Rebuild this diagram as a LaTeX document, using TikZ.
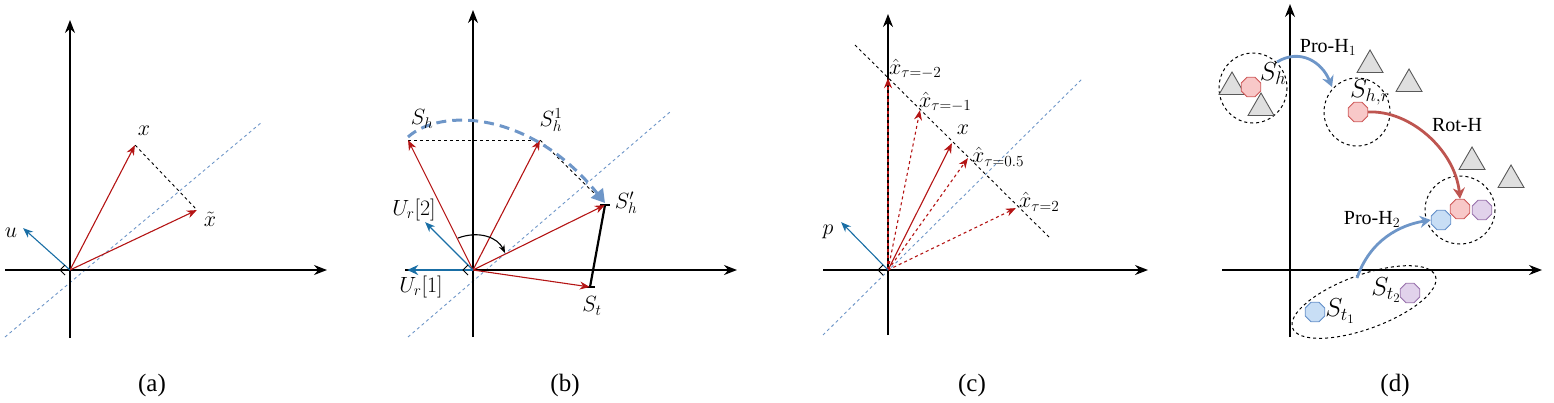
\RequirePackage{fix-cm}
\documentclass[tikz,border=0pt]{standalone}
\usepackage{fontspec}
\setmainfont{Liberation Serif}
\usetikzlibrary{arrows.meta,shapes.geometric}
\definecolor{vred}{RGB}{180,20,20}
\definecolor{vblue}{RGB}{25,110,165}
\definecolor{lblue}{RGB}{110,150,200}
\definecolor{pfill}{RGB}{248,200,200}\definecolor{pdraw}{RGB}{205,85,85}
\definecolor{bfill}{RGB}{200,222,245}\definecolor{bdraw}{RGB}{95,140,200}
\definecolor{ufill}{RGB}{225,210,235}\definecolor{udraw}{RGB}{150,110,170}
\definecolor{arrred}{RGB}{190,85,80}
\definecolor{arrblue}{RGB}{110,150,200}
\begin{document}
\begin{tikzpicture}[x=1pt,y=-1pt,font=\fontsize{22}{24}\selectfont,
 axis/.style={line width=1.4pt,-{Stealth[length=13pt,width=10pt]}},
 vec/.style={vred,line width=1.1pt,-{Stealth[length=10pt,width=8pt]}},
 dvec/.style={vec,dashed},
 bvec/.style={vblue,line width=1.1pt,-{Stealth[length=10pt,width=8pt]}},
 diag/.style={lblue,dashed,line width=0.9pt},
 aux/.style={dashed,line width=0.9pt},
 pt/.style={circle,inner sep=0pt,minimum size=0pt},
 rdot/.style={regular polygon,regular polygon sides=8,minimum size=21pt,inner sep=0pt,fill=pfill,draw=pdraw,line width=0.8pt},
 bdot/.style={rdot,fill=bfill,draw=bdraw},
 udot/.style={rdot,fill=ufill,draw=udraw},
 tri/.style={regular polygon,regular polygon sides=3,minimum size=30pt,inner sep=0pt,fill=gray!25,draw=gray!70!black,line width=0.9pt},
 grp/.style={dashed,line width=1pt},
 lbl/.style={font=\fontsize{20}{22}\selectfont},
 captxt/.style={font=\fontsize{25}{27}\selectfont}]
\useasboundingbox (0,0) rectangle (1554,402);
% ---------- (a)
\coordinate (oa) at (70,270);
\coordinate (ya1) at (70,338);\coordinate (ya2) at (70,20);
\coordinate (xa1) at (5,270);\coordinate (xa2) at (327,270);
\coordinate (da1) at (5,337);\coordinate (da2) at (262,122);
\draw[diag] (da1)--(da2);
\draw[axis] (ya1)--(ya2);
\draw[axis] (xa1)--(xa2);
\node[pt] (xa) at (135,145){};\node[pt] (xta) at (197,210){};\node[pt] (ua) at (23,228){};
\draw[aux] (xa)--(xta);
\draw[vec] (oa)--(xa);\draw[vec] (oa)--(xta);
\draw[bvec] (oa)--(ua);
\draw[line width=0.9pt] (65,265)--(60,270)--(65,275);
\node at (144,131){$x$};\node at (210,219){$\tilde{x}$};\node at (11,233){$u$};
\node[captxt] at (152,385){(a)};
% ---------- (b)
\coordinate (ob) at (473,270);
\draw[diag] (473,337)--(473,15);
\draw[diag] (408,337)--(670,112);
\draw[axis] (473,337)--(473,10);
\draw[axis] (405,270)--(737,270);
\node[pt] (sh) at (408,140){};\node[pt] (sh1) at (540,140){};
\node[pt] (shp) at (605,205){};\node[pt] (st) at (590,287){};
\node[pt] (u2) at (425,222){};\node[pt] (u1) at (407,270){};
\draw[aux] (sh)--(sh1);
\draw[aux] (sh1)--(597,196);
\draw[line width=2.2pt] (shp)--(st);
\draw[line width=1.5pt] (600,205)--(610,205);\draw[line width=1.5pt] (585,287)--(595,287);
\draw[vec] (ob)--(sh);\draw[vec] (ob)--(sh1);\draw[vec] (ob)--(shp);\draw[vec] (ob)--(st);
\draw[bvec] (ob)--(u2);
\draw[vblue,line width=2.2pt,-{Stealth[length=11pt,width=10pt]}] (ob)--(u1);
\draw[line width=0.9pt] (468,265)--(463,270)--(468,275);
\draw[arrblue,line width=3pt,dash pattern=on 10pt off 6pt,-{Triangle[length=13pt,width=15pt]}] (408,137) .. controls (440,108) and (530,110) .. (605,203);
\draw[line width=1.1pt,-{Stealth[length=8pt]}] (458,238) .. controls (480,230) and (498,238) .. (505,253);
\node at (422,119){$S_h$};\node at (551,120){$S_h^1$};
\node at (626,203){$S_h'$};\node at (592,306){$S_t$};
\node at (414,210){$U_r[2]$};\node at (421,287){$U_r[1]$};
\node[captxt] at (565,385){(b)};
% ---------- (c)
\coordinate (oc) at (888,270);
\draw[diag] (823,335)--(1083,78);
\draw[aux] (855,45)--(1050,238);
\draw[axis] (888,335)--(888,14);
\draw[axis] (823,270)--(1148,270);
\node[pt] (t1) at (888,78){};\node[pt] (t2) at (920,110){};\node[pt] (xc) at (952,143){};
\node[pt] (t3) at (968,158){};\node[pt] (t4) at (1016,208){};\node[pt] (p) at (841,222){};
\draw[dvec] (oc)--(t1);\draw[dvec] (oc)--(t2);\draw[vec] (oc)--(xc);
\draw[dvec] (oc)--(t3);\draw[dvec] (oc)--(t4);
\draw[bvec] (oc)--(p);
\draw[line width=0.9pt] (883,265)--(878,270)--(883,275);
\node[anchor=west,inner sep=0pt] at (889,69){$\hat{x}_{\tau=-2}$};
\node[anchor=west,inner sep=0pt] at (919,102){$\hat{x}_{\tau=-1}$};
\node at (963,130){$x$};
\node[anchor=west,inner sep=0pt] at (972,157){$\hat{x}_{\tau=0.5}$};
\node[anchor=west,inner sep=0pt] at (1019,202){$\hat{x}_{\tau=2}$};
\node at (828,232){$p$};
\node[captxt] at (972,385){(c)};
% ---------- (d)
\draw[axis] (1290,337)--(1290,4);
\draw[axis] (1222,270)--(1542,270);
\draw[grp] (1253,88) ellipse[x radius=34,y radius=35];
\draw[grp] (1357,112) ellipse[x radius=33,y radius=34];
\draw[grp] (1460,210) ellipse[x radius=35,y radius=34];
\draw[grp,rotate around={20:(1364,302)}] (1364,302) ellipse[x radius=76,y radius=27];
\node[tri] (tr1) at (1232,87){};\node[tri] (tr2) at (1261,108){};
\node[tri] (tr3) at (1370,65){};\node[tri] (tr4) at (1409,84){};
\node[tri] (tr5) at (1472,162){};\node[tri] (tr6) at (1511,180){};
\node[rdot] (shd) at (1251,87){};
\node[rdot] (shr) at (1358,112){};
\node[bdot] (tb) at (1441,220){};
\node[rdot] (tr) at (1460,209){};
\node[udot] (tu) at (1482,210){};
\node[bdot] (st1) at (1315,312){};
\node[udot] (st2) at (1410,293){};
\node at (1273,74){\fontsize{26}{28}\selectfont$S_h$};
\node at (1370,92){\fontsize{26}{28}\selectfont$S_{h,r}$};
\node at (1340,311){\fontsize{26}{28}\selectfont$S_{t_1}$};
\node at (1386,290){\fontsize{26}{28}\selectfont$S_{t_2}$};
\coordinate (p1s) at (1277,62);\coordinate (p1e) at (1332,87);
\draw[arrblue,line width=2.8pt,-{Stealth[length=11pt,width=12pt]}] (p1s) .. controls (1300,48) and (1322,62) .. (p1e);
\draw[arrred,line width=2.8pt,-{Stealth[length=11pt,width=12pt]}] (shr.east) .. controls (1410,110) and (1455,150) .. (tr.north);
\coordinate (p2s) at (1357,278);
\draw[arrblue,line width=2.8pt,-{Stealth[length=11pt,width=12pt]}] (p2s) .. controls (1370,240) and (1400,225) .. (tb.west);
\node[lbl] at (1328,47){Pro-H$_1$};
\node[lbl] at (1457,125){Rot-H};
\node[lbl] at (1372,219){Pro-H$_2$};
\node[captxt] at (1395,385){(d)};
\end{tikzpicture}
\end{document}
